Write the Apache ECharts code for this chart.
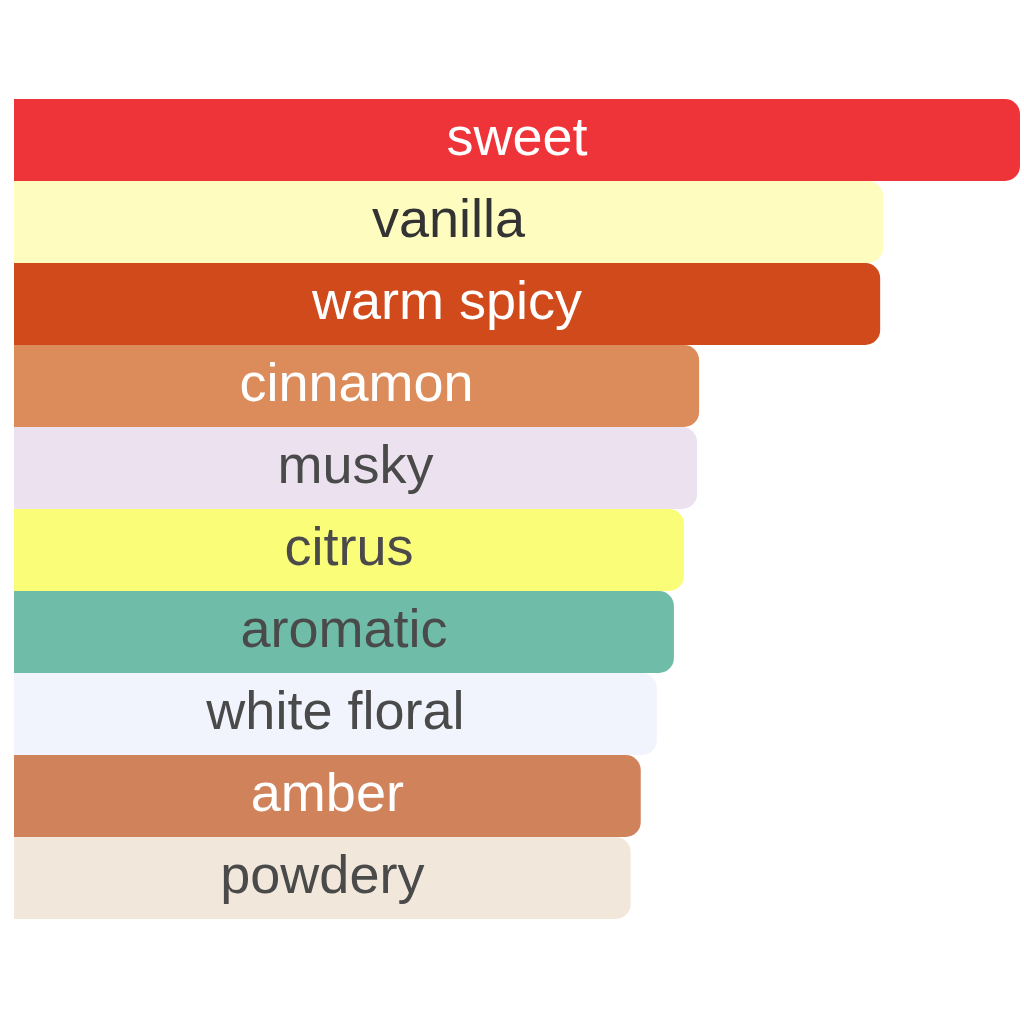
<!DOCTYPE html>
<html>
<head>
<meta charset="utf-8">
<script src="https://cdn.jsdelivr.net/npm/echarts@6/dist/echarts.min.js"></script>
<style>
  html, body { margin: 0; padding: 0; background: #fff; }
  #chart-container { width: 1024px; height: 1024px; }
</style>
</head>
<body>
<div id="chart-container"></div>
<script>
var notes = ['sweet', 'vanilla', 'warm spicy', 'cinnamon', 'musky', 'citrus', 'aromatic', 'white floral', 'amber', 'powdery'];
var strength = [100, 86.4, 86.1, 68.1, 67.9, 66.6, 65.6, 63.9, 62.3, 61.3];
var barColors = ['#EE3439', '#FFFCC0', '#D04A1C', '#DC8C5A', '#ECE1EF', '#FAFD78', '#6FBDA9', '#F1F4FC', '#D0825A', '#F1E7DB'];
var textColors = ['#fff', '#333', '#fff', '#fff', '#4a4a4a', '#4a4a4a', '#4a4a4a', '#4a4a4a', '#fff', '#4a4a4a'];

var dom = document.getElementById('chart-container');
var myChart = echarts.init(dom, null, { renderer: 'canvas' });

var option = {
  animation: false,
  grid: { left: 14, right: 4, top: 99, bottom: 105 },
  xAxis: { type: 'value', min: 0, max: 100, show: false },
  yAxis: { type: 'category', data: notes, inverse: true, show: false },
  series: [
    {
      type: 'bar',
      barCategoryGap: 0,
      data: strength.map(function (v, i) {
        return {
          value: v,
          itemStyle: { color: barColors[i] },
          label: { color: textColors[i] }
        };
      }),
      itemStyle: { borderRadius: [0, 15, 15, 0] },
      label: {
        show: true,
        position: 'inside',
        formatter: '{b}',
        fontFamily: 'Liberation Sans, Arial, sans-serif',
        fontSize: 54
      }
    }
  ]
};

myChart.setOption(option);
window.addEventListener('resize', myChart.resize);
</script>
</body>
</html>
